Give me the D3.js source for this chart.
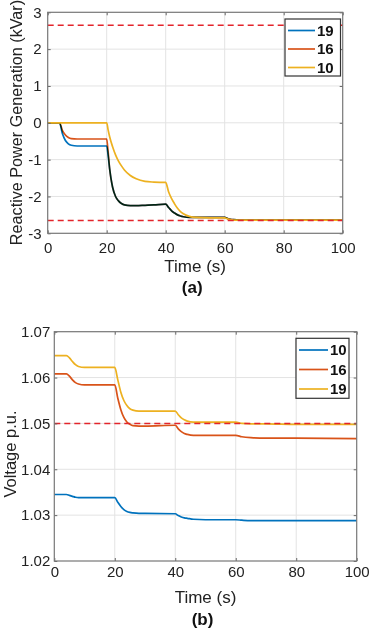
<!DOCTYPE html>
<html>
<head>
<meta charset="utf-8">
<script src="https://cdn.jsdelivr.net/npm/d3@7"></script>
<style>
  html, body { margin: 0; padding: 0; background: #fff; }
  svg { display: block; font-family: Arial, "Liberation Sans", sans-serif; }
</style>
</head>
<body>
<svg id="chart" width="370" height="631"></svg>
<script>
// ---------- DATA: panel (a) reactive power (kVar) ----------
const timeA = [0,4,5,6,7,8,10,20,20.5,21,22,23,24,25,26,28,30,33,36,40,41,42,43,44,45,46,48,50,55,60,61,62,63,65,70,80,90,100];
const q19 = [0,0,-0.30,-0.48,-0.57,-0.61,-0.63,-0.63,-0.90,-1.25,-1.75,-2.00,-2.12,-2.19,-2.23,-2.25,-2.25,-2.24,-2.23,-2.21,-2.30,-2.39,-2.45,-2.50,-2.53,-2.55,-2.57,-2.57,-2.57,-2.57,-2.60,-2.62,-2.63,-2.64,-2.64,-2.64,-2.64,-2.64];
const q16 = [0,0,-0.21,-0.33,-0.40,-0.43,-0.44,-0.44,-0.80,-1.25,-1.75,-2.00,-2.12,-2.19,-2.23,-2.25,-2.25,-2.24,-2.23,-2.21,-2.30,-2.39,-2.45,-2.50,-2.53,-2.55,-2.57,-2.57,-2.57,-2.57,-2.60,-2.62,-2.63,-2.64,-2.64,-2.64,-2.64,-2.64];
const q10 = [0,0,0,0,0,0,0,0,-0.20,-0.38,-0.65,-0.87,-1.04,-1.17,-1.28,-1.43,-1.52,-1.59,-1.61,-1.62,-1.88,-2.06,-2.20,-2.32,-2.41,-2.47,-2.54,-2.57,-2.58,-2.58,-2.61,-2.63,-2.64,-2.64,-2.64,-2.64,-2.64,-2.64];
const seriesA = ["19","16","10"];
const limitsA = [2.65, -2.65];
const xTicks = [0,20,40,60,80,100];
const yTicksA = [-3,-2,-1,0,1,2,3];

// ---------- DATA: panel (b) voltage (p.u.) ----------
const timeB = [0,4,5,6,7,8,10,20,21,22,23,24,25,26,28,30,40,41,42,43,44,46,50,60,62,65,70,80,100];
const v10 = [1.0345,1.0345,1.0343,1.0341,1.0339,1.0338,1.0338,1.0338,1.0328,1.0319,1.0312,1.0308,1.0306,1.0305,1.0304,1.0304,1.0303,1.0299,1.0296,1.0294,1.0293,1.0291,1.0290,1.0290,1.0289,1.0288,1.0288,1.0288,1.0288];
const v16 = [1.0608,1.0608,1.0603,1.0595,1.0589,1.0586,1.0584,1.0584,1.0555,1.0530,1.0513,1.0503,1.0498,1.0495,1.0494,1.0494,1.0496,1.0488,1.0482,1.0478,1.0476,1.0474,1.0474,1.0474,1.0471,1.0469,1.0468,1.0468,1.0467];
const v19 = [1.0648,1.0648,1.0643,1.0635,1.0628,1.0624,1.0622,1.0622,1.0595,1.0568,1.0550,1.0539,1.0532,1.0529,1.0527,1.0527,1.0527,1.0519,1.0512,1.0508,1.0505,1.0503,1.0503,1.0503,1.0500,1.0499,1.0499,1.0498,1.0498];
const seriesB = ["10","16","19"];
const limitsB = [1.05];
const yTicksB = [1.02,1.03,1.04,1.05,1.06,1.07];

const colors = ["#0072BD", "#D95319", "#EDB120"];

const svg = d3.select("#chart");

function panel(cfg) {
  const x = d3.scaleLinear().domain([0,100]).range([cfg.left, cfg.right]);
  const y = d3.scaleLinear().domain(cfg.yDomain).range([cfg.bottom, cfg.top]);
  const g = svg.append("g");
  const W = cfg.right - cfg.left, H = cfg.bottom - cfg.top;

  // grid
  g.append("g").selectAll("line").data(xTicks.slice(1, -1)).join("line")
    .attr("x1", d => x(d)).attr("x2", d => x(d))
    .attr("y1", cfg.top).attr("y2", cfg.bottom)
    .attr("stroke", "#e3e3e3").attr("stroke-width", 1);
  g.append("g").selectAll("line").data(cfg.yTicks.slice(1, -1)).join("line")
    .attr("y1", d => y(d)).attr("y2", d => y(d))
    .attr("x1", cfg.left).attr("x2", cfg.right)
    .attr("stroke", "#e3e3e3").attr("stroke-width", 1);

  // lines
  const line = d3.line().x(d => x(d[0])).y(d => y(d[1])).curve(d3.curveMonotoneX);
  cfg.series.forEach((vals, i) => {
    g.append("path")
      .datum(cfg.time.map((t, k) => [t, vals[k]]))
      .attr("fill", "none")
      .attr("stroke", cfg.colors[i])
      .attr("stroke-width", 1.7)
      .style("mix-blend-mode", (cfg.blend && i < 2) ? "multiply" : null)
      .attr("d", line);
  });

  // dashed limit lines
  g.append("g").selectAll("line").data(cfg.limits).join("line")
    .attr("x1", cfg.left).attr("x2", cfg.right)
    .attr("y1", d => y(d)).attr("y2", d => y(d))
    .attr("stroke", "#e3242b").attr("stroke-width", 1.5)
    .attr("stroke-dasharray", "6,4");

  // axes
  const ax = g.append("g").attr("transform", `translate(0,${cfg.bottom})`)
    .call(d3.axisBottom(x).tickValues(xTicks).tickSize(-3).tickPadding(cfg.xPad).tickFormat(d => String(d)));
  const ay = g.append("g").attr("transform", `translate(${cfg.left},0)`)
    .call(d3.axisLeft(y).tickValues(cfg.yTicks).tickSize(-3).tickPadding(cfg.yPad).tickFormat(cfg.fmt));
  const at = g.append("g").attr("transform", `translate(0,${cfg.top})`)
    .call(d3.axisTop(x).tickValues(xTicks).tickSize(-3).tickFormat(""));
  const ar = g.append("g").attr("transform", `translate(${cfg.right},0)`)
    .call(d3.axisRight(y).tickValues(cfg.yTicks).tickSize(-3).tickFormat(""));
  [ax, ay, at, ar].forEach(a => {
    a.select(".domain").remove();
    a.selectAll(".tick line").attr("stroke", "#666");
    a.selectAll("text").attr("font-size", 15).attr("fill", "#222")
      .attr("font-family", "Arial, 'Liberation Sans', sans-serif");
  });

  // box
  g.append("rect").attr("x", cfg.left).attr("y", cfg.top).attr("width", W).attr("height", H)
    .attr("fill", "none").attr("stroke", "#777").attr("stroke-width", 1.2);

  // axis titles
  g.append("text").attr("x", (cfg.left + cfg.right) / 2).attr("y", cfg.xTitleY)
    .attr("text-anchor", "middle").attr("font-size", 17).attr("fill", "#222").text("Time (s)");
  g.append("text").attr("transform", `translate(${cfg.yTitleX},${cfg.yTitleCY}) rotate(-90)`)
    .attr("text-anchor", "middle").attr("font-size", cfg.yTitleSize).attr("fill", "#222").text(cfg.yTitle);
  g.append("text").attr("x", (cfg.left + cfg.right) / 2 - 3).attr("y", cfg.capY)
    .attr("text-anchor", "middle").attr("font-size", 17).attr("font-weight", "bold").attr("fill", "#111").text(cfg.caption);

  // legend
  const L = cfg.legend;
  g.append("rect").attr("x", L.x).attr("y", L.y).attr("width", L.w).attr("height", L.h)
    .attr("fill", "#fff").attr("stroke", "#333").attr("stroke-width", 1.2);
  cfg.names.forEach((n, i) => {
    const yy = L.y + L.first + i * L.step;
    g.append("line").attr("x1", L.x + 3).attr("x2", L.x + L.lineW)
      .attr("y1", yy).attr("y2", yy).attr("stroke", cfg.colors[i]).attr("stroke-width", 1.7);
    g.append("text").attr("x", L.x + L.lineW + 2).attr("y", yy).attr("dy", "0.36em")
      .attr("font-size", 15).attr("font-weight", "bold").attr("fill", "#111").text(n);
  });
}

panel({
  left: 47.7, right: 342.7, top: 12.3, bottom: 233.3,
  yDomain: [-3, 3], yTicks: yTicksA, fmt: d => String(d),
  time: timeA, series: [q19, q16, q10], colors: colors, names: seriesA, blend: true,
  limits: limitsA, xPad: 9, yPad: 6,
  xTitleY: 272, yTitle: "Reactive Power Generation (kVar)", yTitleX: 22, yTitleCY: 122.5, yTitleSize: 16.2,
  caption: "(a)", capY: 293,
  legend: { x: 285, y: 19, w: 55.5, h: 57, first: 11.5, step: 18.5, lineW: 30 }
});

panel({
  left: 54.3, right: 356.7, top: 331.7, bottom: 561,
  yDomain: [1.02, 1.07], yTicks: yTicksB, fmt: d3.format(".2f"),
  time: timeB, series: [v10, v16, v19], colors: colors, names: seriesB, blend: false,
  limits: limitsB, xPad: 5, yPad: 4,
  xTitleY: 603, yTitle: "Voltage p.u.", yTitleX: 15.5, yTitleCY: 454, yTitleSize: 16.5,
  caption: "(b)", capY: 625,
  legend: { x: 296, y: 338.3, w: 53, h: 60, first: 11.7, step: 19.5, lineW: 32 }
});
</script>
</body>
</html>
